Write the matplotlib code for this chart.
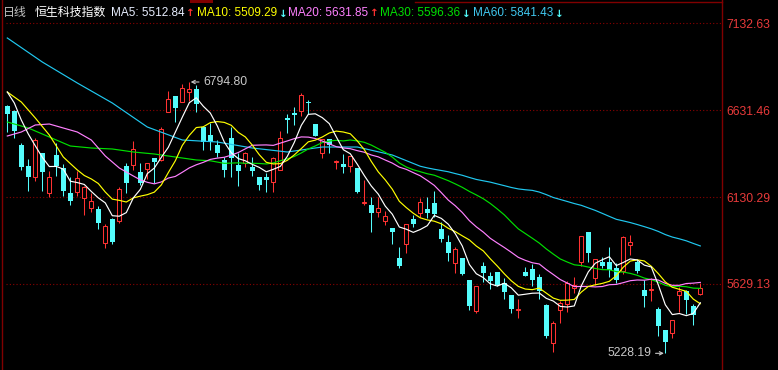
import numpy as np
import pandas as pd
import matplotlib
matplotlib.use('Agg')
import matplotlib.pyplot as plt
from matplotlib.lines import Line2D
from matplotlib.patches import Rectangle

plt.rcParams['font.family'] = ['Liberation Sans', 'Noto Sans CJK SC', 'DejaVu Sans']

# === Daily candles ===
opens = [6656, 6629, 6431, 6310, 6248, 6383, 6156, 6373, 6300, 6156,
         6161, 6123, 6066, 6062, 5863, 6002, 5994, 6310, 6316, 6273,
         6291, 6354, 6345, 6623, 6714, 6681, 6735, 6754, 6537, 6489,
         6431, 6345, 6470, 6316, 6325, 6306, 6245, 6248, 6219, 6287,
         6585, 6614, 6627, 6681, 6552, 6383, 6464, 6334, 6320, 6310,
         6296, 6098, 6085, 6046, 5994, 5950, 5777, 5858, 6004, 6037,
         6062, 6094, 5944, 5869, 5748, 5777, 5652, 5474, 5732, 5675,
         5696, 5636, 5565, 5478, 5700, 5713, 5667, 5507, 5290, 5478,
         5513, 5604, 5757, 5927, 5661, 5757, 5757, 5719, 5705, 5854,
         5757, 5594, 5594, 5482, 5363, 5344, 5565, 5590, 5502, 5569]
highs = [6662, 6633, 6444, 6350, 6470, 6387, 6281, 6441, 6321, 6248,
         6281, 6194, 6152, 6079, 5973, 6008, 6190, 6329, 6454, 6329,
         6328, 6356, 6533, 6743, 6716, 6783, 6794.80, 6778, 6540, 6556,
         6460, 6364, 6537, 6387, 6389, 6360, 6247, 6271, 6360, 6512,
         6610, 6649, 6730, 6691, 6555, 6466, 6466, 6345, 6379, 6370,
         6298, 6229, 6129, 6129, 6050, 5952, 5844, 5975, 6027, 6123,
         6129, 6166, 5988, 5911, 5844, 5779, 5654, 5619, 5757, 5700,
         5698, 5661, 5567, 5540, 5725, 5744, 5686, 5513, 5417, 5532,
         5648, 5667, 5907, 5931, 5773, 5783, 5844, 5748, 5906, 5911,
         5767, 5652, 5661, 5497, 5365, 5422, 5613, 5592, 5513, 5633]
lows = [6508, 6470, 6287, 6167, 6225, 6167, 6133, 6254, 6138, 6085,
        6137, 6027, 6046, 5944, 5835, 5859, 5982, 6152, 6287, 6200,
        6233, 6213, 6340, 6620, 6566, 6679, 6687, 6623, 6402, 6402,
        6364, 6245, 6248, 6194, 6302, 6252, 6171, 6161, 6161, 6285,
        6502, 6547, 6599, 6610, 6482, 6354, 6387, 6291, 6271, 6277,
        6156, 6085, 5930, 6017, 5969, 5859, 5719, 5806, 5959, 6017,
        6011, 6017, 5873, 5763, 5690, 5680, 5478, 5463, 5642, 5598,
        5617, 5540, 5463, 5434, 5672, 5617, 5540, 5315, 5238, 5405,
        5469, 5575, 5732, 5757, 5623, 5719, 5671, 5633, 5686, 5796,
        5690, 5497, 5532, 5328, 5228.19, 5315, 5469, 5455, 5392, 5567]
closes = [6608, 6512, 6306, 6245, 6460, 6277, 6245, 6310, 6167, 6110,
          6239, 6190, 6108, 5982, 5965, 5869, 6175, 6213, 6406, 6210,
          6325, 6335, 6523, 6695, 6646, 6759, 6753, 6666, 6450, 6450,
          6387, 6287, 6356, 6283, 6387, 6283, 6200, 6229, 6354, 6470,
          6575, 6604, 6720, 6672, 6485, 6464, 6431, 6338, 6302, 6368,
          6161, 6104, 6037, 6066, 6021, 5930, 5734, 5973, 5975, 6104,
          6040, 6031, 5887, 5806, 5829, 5686, 5501, 5617, 5694, 5648,
          5623, 5584, 5482, 5483, 5675, 5652, 5590, 5328, 5405, 5521,
          5633, 5623, 5906, 5809, 5771, 5734, 5709, 5652, 5898, 5873,
          5705, 5559, 5598, 5386, 5295, 5421, 5590, 5536, 5450, 5604]

# === MA values before the window fills ===
ma5_head_idx = [0, 1, 2, 3]
ma5_head = [6737.1, 6673.6, 6575.4, 6494.6]
ma10_head_idx = [0, 2, 4, 6, 8]
ma10_head = [6737.1, 6679.4, 6587.0, 6488.8, 6361.8]
ma20_head_idx = [0, 2, 4, 6, 8, 10, 12, 14, 16, 18]
ma20_head = [6483.0, 6506.1, 6546.6, 6552.3, 6529.2, 6506.1, 6459.9, 6367.6, 6298.3, 6252.1]
ma30_head_idx = [0, 3, 6, 9, 12, 15, 18, 21, 24, 27]
ma30_head = [6563.9, 6529.2, 6477.3, 6425.3, 6413.7, 6408.0, 6390.7, 6379.1, 6361.8, 6344.5]
ma60_head_idx = [0, 5, 10, 15, 20, 25, 30, 35, 40, 45, 50, 55]
ma60_head = [7049.0, 6910.3, 6789.1, 6673.6, 6535.0, 6459.9, 6448.4, 6413.7, 6390.7, 6419.5, 6419.5, 6373.3]

# === Header / axis ===
period_label = '日线'
index_name = '恒生科技指数'
ma_names = ['MA5', 'MA10', 'MA20', 'MA30', 'MA60']
ma_last = [5512.84, 5509.29, 5631.85, 5596.36, 5841.43]
ma_arrows = ['↑', '↓', '↑', '↓', '↓']
price_levels = [7132.63, 6631.46, 6130.29, 5629.13]
price_range = (5131.9, 7268.3)

# === Colors ===
RED = '#ff3232'
CYAN = '#54fcfc'
BORDER = '#800000'
GRID = '#8c0000'
ma_colors = ['#ffffff', '#ffff00', '#ff80ff', '#00e000', '#20c8f0']
label_colors = ['#e8eeff', '#ffff00', '#ff80ff', '#00e000', '#40c8f0']
arrow_colors = [RED, CYAN, RED, CYAN, CYAN]

W, H = 778, 370
fig = plt.figure(figsize=(W / 100, H / 100), dpi=100, facecolor='black')
ax = fig.add_axes([2 / W, 0, 720 / W, 1])
ax.set_facecolor('black')

o = np.array(opens, dtype=float)
h = np.array(highs, dtype=float)
l = np.array(lows, dtype=float)
c = np.array(closes, dtype=float)
x = np.arange(len(c))
up = c >= o

# === Candles ===
ax.vlines(x, l, h, colors=np.where(up, RED, CYAN), linewidth=0.75, zorder=2)
ax.bar(x[~up], (o - c)[~up], bottom=c[~up], width=0.7, color=CYAN, linewidth=0, zorder=3)
ax.bar(x[up], (c - o)[up], bottom=o[up], width=0.58, facecolor='black',
       edgecolor=RED, linewidth=0.75, zorder=3)

# === Moving averages ===
close_s = pd.Series(c)


def ma_line(n, head_idx, head_vals):
    rolled = close_s.rolling(n).mean()
    xs = list(head_idx) + list(range(n - 1, len(c)))
    ys = list(head_vals) + list(rolled.iloc[n - 1:])
    return xs, ys


heads = [(5, ma5_head_idx, ma5_head), (10, ma10_head_idx, ma10_head),
         (20, ma20_head_idx, ma20_head), (30, ma30_head_idx, ma30_head),
         (60, ma60_head_idx, ma60_head)]
for (n, hi_idx, hv), col in zip(heads[::-1], ma_colors[::-1]):
    xs, ys = ma_line(n, hi_idx, hv)
    ax.plot(xs, ys, color=col, lw=0.85, zorder=4)

# === Grid and axes ===
for lv in price_levels:
    ax.axhline(lv, xmin=4 / 720, color=GRID, lw=0.8, ls=(0, (1, 2)), zorder=1)

ax.set_xlim(-0.757, -0.757 + 720 / 7)
ax.set_ylim(*price_range)
ax.set_xticks([])
ax.yaxis.tick_right()
ax.set_yticks(price_levels)
ax.set_yticklabels([f'{v:.2f}' for v in price_levels])
ax.tick_params(axis='y', length=0, pad=3, labelcolor='#e83a3a', labelsize=8.8)
for side in ['top', 'bottom']:
    ax.spines[side].set_visible(False)
for side in ['left', 'right']:
    ax.spines[side].set_color(BORDER)
    ax.spines[side].set_linewidth(1.0)

# top edge remnant
fig.add_artist(Line2D([415 / W, 722 / W], [1 - 1.5 / H] * 2, color=BORDER, lw=1.0))
fig.add_artist(Rectangle((190 / W, 1 - 2.5 / H), 23 / W, 2.5 / H, color=BORDER, lw=0))

# === High / low markers ===
hi_i = int(np.argmax(h))
lo_i = int(np.argmin(l))
ax.annotate(f'{h[hi_i]:.2f}', xy=(hi_i, h[hi_i]), xytext=(10, 0), textcoords='offset points',
            color='#c8c8c8', fontsize=8.8, ha='left', va='center',
            arrowprops=dict(arrowstyle='->', color='#c8c8c8', lw=0.8, shrinkA=1, shrinkB=1,
                            mutation_scale=6), zorder=5)
ax.annotate(f'{l[lo_i]:.2f}', xy=(lo_i, l[lo_i]), xytext=(-10, 0), textcoords='offset points',
            color='#c8c8c8', fontsize=8.8, ha='right', va='center',
            arrowprops=dict(arrowstyle='->', color='#c8c8c8', lw=0.8, shrinkA=1, shrinkB=1,
                            mutation_scale=6), zorder=5)

# === Header ===
ty = 1 - 13 / H
fig.text(3 / W, ty, period_label, color='#c0c0c0', fontsize=8.6, va='center')
fig.text(35 / W, ty, index_name, color='#ffffff', fontsize=8.6, va='center')
label_x = [111, 197, 288, 380, 473]
renderer = fig.canvas.get_renderer()
for name, val, arr, lx, lc, ac in zip(ma_names, ma_last, ma_arrows, label_x,
                                     label_colors, arrow_colors):
    t = fig.text(lx / W, ty, f'{name}: {val:.2f}', color=lc, fontsize=8.45, va='center')
    end = t.get_window_extent(renderer).x1
    fig.text((end + 1.5) / W, ty - 0.5 / H, arr, color=ac, fontsize=7.5, va='center',
             fontweight='bold', family=['DejaVu Sans'])

fig.savefig('out.png', dpi=100, facecolor='black')
